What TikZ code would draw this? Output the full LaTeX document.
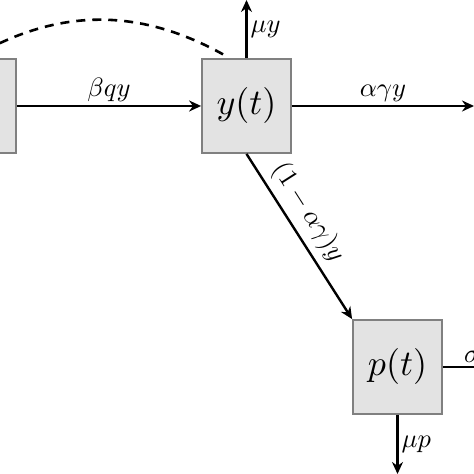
\documentclass[tikz,border=0pt]{standalone}
\usepackage{amsmath}
\usepackage{graphicx}
\usepackage{xcolor}
\usepackage{tikz}
\usetikzlibrary{arrows.meta, positioning}
\newcommand{\poollbl}[1]{\scalebox{3.6}{$#1$}}
\newcommand{\ratelbl}[1]{\scalebox{2.65}{$#1$}}
\tikzstyle{compartment} = [rectangle, minimum width=89pt, minimum height=94pt, inner sep=0pt, text centered, draw=gray, line width=1.8pt, fill=gray!22]
\tikzstyle{arrow} = [line width=2.4pt, -{Stealth[length=12pt,width=11pt]}]
\tikzstyle{rate} = [inner sep=3pt]

\begin{document}
\begin{tikzpicture}[x=1pt, y=1pt]
   \useasboundingbox (0,0) rectangle (474,474);
   \node (q) [compartment] at (-28.5,368) {};
   \node (yt) [compartment] at (246.5,368) {\poollbl{y(t)}};
   \node (pt) [compartment] at (397.5,107) {\poollbl{p(t)}};
   % free ends
   \coordinate (muyend) at (246.5,474);
   \coordinate (agyend) at (474,368);
   \coordinate (mupend) at (397.5,0);
   \coordinate (sigend) at (520,107);
   \coordinate (arcend) at (226,418);
   \draw [arrow] (q) -- node[rate, above] {\ratelbl{\beta q y}} (yt);
   \draw [arrow] (yt.north) -- node[rate, right] {\ratelbl{\mu y}} (muyend);
   \draw [arrow] (yt.east) -- node[rate, above] {\ratelbl{\alpha\gamma y}} (agyend);
   \draw [arrow] (yt.south) -- node[rate, above, sloped, pos=0.42, inner sep=6pt] {\ratelbl{(1-\alpha\gamma)y}} (pt.north west);
   \draw [arrow] (pt.south) -- node[rate, right] {\ratelbl{\mu p}} (mupend);
   \draw [arrow] (pt.east) -- node[rate, above right, pos=0.22] {\ratelbl{\sigma}} (sigend);
   \draw [line width=2.6pt, dash pattern=on 9pt off 7pt] (q.north) to[bend left=30] (arcend);
\end{tikzpicture}
\end{document}
